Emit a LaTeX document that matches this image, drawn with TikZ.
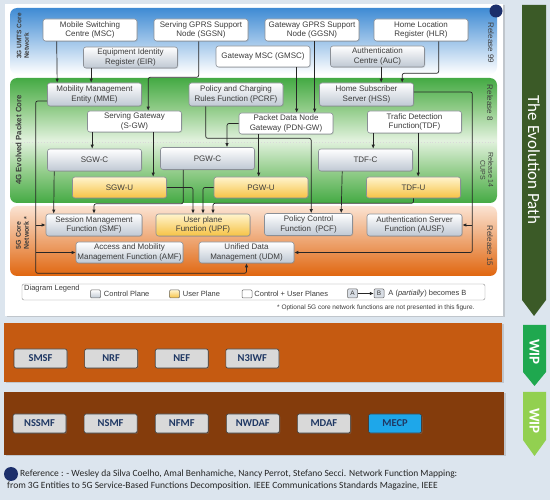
\documentclass[tikz,border=0pt]{standalone}
\usepackage{fontspec}
\setmainfont{Liberation Sans}
\newfontfamily\calibri{Carlito}
\usepackage{tikz}
\usetikzlibrary{positioning,arrows.meta,shadows}
\definecolor{PageBack}{HTML}{DCE5EE}
\definecolor{UmtsBlue}{HTML}{3F8BD4}
\definecolor{EpcGreen}{HTML}{44AA44}
\definecolor{EpcMid}{HTML}{8FCB87}
\definecolor{EpcLight}{HTML}{E2F2DE}
\definecolor{CorePeach}{HTML}{FBE3D2}
\definecolor{CoreOrange}{HTML}{E0660F}
\definecolor{CtrlGray}{HTML}{BFC8D3}
\definecolor{UserGold}{HTML}{F6C244}
\definecolor{UserLight}{HTML}{FFF4CC}
\definecolor{BoxLine}{HTML}{8A8F96}
\definecolor{TextGray}{HTML}{3C3C3C}
\definecolor{WipOrange}{HTML}{C55A11}
\definecolor{WipBrown}{HTML}{843C0C}
\definecolor{PathGreen}{HTML}{3B5A27}
\definecolor{WipGreen}{HTML}{1FA84F}
\definecolor{WipLime}{HTML}{92D050}
\definecolor{RefNavy}{HTML}{1C2F6B}
\definecolor{FuncNavy}{HTML}{1F3864}
\definecolor{MecBlue}{HTML}{1EA7EA}
\definecolor{FuncGray}{HTML}{D9D9D9}
\pgfdeclareverticalshading{epcband}{100bp}{color(0bp)=(EpcGreen); color(25bp)=(EpcGreen); color(37bp)=(EpcMid); color(50bp)=(EpcLight); color(63bp)=(EpcMid); color(75bp)=(EpcGreen); color(100bp)=(EpcGreen)}

\begin{document}
\begin{tikzpicture}[x=1pt, y=-1pt,
    nf/.style={draw=BoxLine, line width=0.6pt, rounded corners=2.5pt, minimum width=94pt, minimum height=22pt, inner sep=1pt, align=center, text=TextGray, font=\fontsize{8}{9.5}\selectfont, drop shadow={opacity=0.25, shadow xshift=0.8pt, shadow yshift=-0.8pt}},
    cp/.style={nf, top color=white, bottom color=CtrlGray},
    up/.style={nf, top color=UserLight, bottom color=UserGold},
    cup/.style={nf, fill=white},
    link/.style={draw=black!85, line width=0.7pt, rounded corners=2pt, -{Latex[length=4pt, width=3.4pt]}},
    band/.style={font=\bfseries\fontsize{6.5}{7.5}\selectfont, text=TextGray, align=left, rotate=90},
    rel/.style={font=\fontsize{8}{8.5}\selectfont, text=black!75, align=center, rotate=-90},
    fn/.style={draw=black!75, line width=0.6pt, rounded corners=2pt, fill=FuncGray, minimum width=53pt, minimum height=19pt, inner sep=1pt, text=FuncNavy, font=\calibri\bfseries\fontsize{10.5}{12}\selectfont, drop shadow={opacity=0.35, shadow xshift=1pt, shadow yshift=-1pt}},
    swatch/.style={draw=black!60, line width=0.5pt, rounded corners=1pt, minimum width=10pt, minimum height=8pt, inner sep=0pt},
    legtext/.style={font=\fontsize{7.5}{8}\selectfont, text=TextGray, inner sep=0pt, anchor=west},
    wip/.style={font=\calibri\bfseries\fontsize{15}{15}\selectfont, text=white, rotate=-90}
  ]
    \fill[PageBack] (0,0) rectangle (550,500);

    % core network panel
    \fill[white, drop shadow={opacity=0.3, shadow xshift=1.5pt, shadow yshift=-1.5pt}] (5,4) rectangle (503,316);
    \shade[top color=UmtsBlue, bottom color=white, rounded corners=7pt] (10,8) rectangle (497,74);
    \shade[shading=epcband, rounded corners=7pt] (10,78) rectangle (497,203);
    \shade[top color=CorePeach, bottom color=CoreOrange, rounded corners=7pt] (10,206) rectangle (497,276);
    \draw[white!70!gray, dotted, line width=0.9pt] (12,142) -- (495,142);
    \fill[RefNavy] (496,11) circle[radius=6.5pt];

    \node[band] (umts) at (23,36) {3G UMTS Core\\Network};
    \node[band, font=\bfseries\fontsize{7.8}{9}\selectfont] (epc) at (18.5,140) {4G Evolved Packet Core};
    \node[band, font=\bfseries\fontsize{7}{8}\selectfont] (fgc) at (22.5,233) {5G Core\\Network *};
    \node[rel] (r99) at (491,43) {Release 99};
    \node[rel] (r8) at (490,103) {Release 8};
    \node[rel, font=\fontsize{7}{8}\selectfont] (r14) at (487,170) {Release 14\\CUPS};
    \node[rel] (r15) at (490,246) {Release 15};

    % 3G
    \node[cup] (msc) at (90,30) {Mobile Switching\\Centre (MSC)};
    \node[cup] (sgsn) at (201,30) {Serving GPRS Support\\Node (SGSN)};
    \node[cup] (ggsn) at (312,30) {Gateway GPRS Support\\Node (GGSN)};
    \node[cup] (hlr) at (421,30) {Home Location\\Register (HLR)};
    \node[cp, minimum height=21pt] (eir) at (130.5,57.5) {Equipment Identity\\Register (EIR)};
    \node[cup, minimum height=21pt] (gmsc) at (263,56.5) {Gateway MSC (GMSC)};
    \node[cp, minimum height=21pt] (auc) at (377.5,56.5) {Authentication\\Centre (AuC)};

    % 4G
    \node[cp, minimum height=23pt] (mme) at (94.5,94.5) {Mobility Management\\Entity (MME)};
    \node[cp, minimum height=23pt] (pcrf) at (236,94.5) {Policy and Charging\\Rules Function (PCRF)};
    \node[cp, minimum height=23pt] (hss) at (366.5,94.5) {Home Subscriber\\Server (HSS)};
    \node[cup, minimum height=21pt] (sgw) at (134.5,121.5) {Serving Gateway\\(S-GW)};
    \node[cup, minimum height=21pt] (pdngw) at (286,123.5) {Packet Data Node\\Gateway (PDN-GW)};
    \node[cup] (tdf) at (414.5,122) {Trafic Detection\\Function(TDF)};
    \node[cp] (sgwc) at (94.5,160) {SGW-C};
    \node[cp] (pgwc) at (207.5,158.5) {PGW-C};
    \node[cp] (tdfc) at (365.5,160) {TDF-C};
    \node[up, minimum height=21pt] (sgwu) at (119.5,187.5) {SGW-U};
    \node[up, minimum height=21pt] (pgwu) at (261,187.5) {PGW-U};
    \node[up, minimum height=21pt] (tdfu) at (413.5,187.5) {TDF-U};

    % 5G
    \node[cp, minimum width=96pt] (smf) at (94,225) {Session Management\\Function (SMF)};
    \node[up] (upf) at (203,225) {User plane\\Function (UPF)};
    \node[cp, minimum width=88pt] (pcf) at (308.5,224.5) {Policy Control\\Function~ (PCF)};
    \node[cp, minimum width=95pt] (ausf) at (414.5,225) {Authentication Server\\Function (AUSF)};
    \node[cp, minimum width=107pt, minimum height=21pt] (amf) at (129.5,252.5) {Access and Mobility\\Management Function (AMF)};
    \node[cp, minimum width=95pt, minimum height=21pt] (udm) at (246.5,252.5) {Unified Data\\Management (UDM)};

    % A (partially) becomes B
    \draw[link] ([xshift=14pt]msc.south west) -- ([xshift=10pt]mme.north west);
    \draw[link] ([xshift=8pt]eir.south west) -- ([xshift=44pt]mme.north west);
    \draw[link] ([xshift=45pt]sgsn.south west) -- ++(0,36) -| ([xshift=61pt]sgw.north west);
    \draw[link] ([xshift=81pt]gmsc.south west) -- ([xshift=58pt]pdngw.north west);
    \draw[link] ([xshift=50pt]ggsn.south west) -- ([xshift=76pt]pdngw.north west);
    \draw[link] ([xshift=51pt]auc.south west) -- ([xshift=62pt]hss.north west);
    \draw[link] ([xshift=65pt]hlr.south west) -- ++(0,32) -| ([xshift=83pt]hss.north west);

    \path (smf.west |- udm.south) ++(-10,10) coordinate (busb);
    \draw[link] ([yshift=-6.5pt]mme.west) -| (busb) -| (udm.south);
    \draw[link] (busb |- smf.west) -- (smf.west);
    \draw[link] (busb |- amf.west) -- (amf.west);

    \draw[link] ([xshift=5pt]sgw.south west) -- ([xshift=45pt]sgwc.north west);
    \draw[link] ([xshift=66pt]sgw.south west) -- ([xshift=81pt]sgwu.north west);
    \draw[link] ([xshift=7pt]sgwc.south west) -- ([xshift=8pt]smf.north west);
    \draw[link] ([xshift=23pt]pgwc.south west) -- ++(0,34) -| (smf.north);
    \draw[link] (sgwu.east) -| ([xshift=-10pt]upf.north);
    \draw[link] (pgwu.west) -| (upf.north);
    \draw[link] (tdfu.south) -- ++(0,5) -| ([xshift=10pt]upf.north);
    \draw[link] ([xshift=17pt]pcrf.south west) -- ++(0,32) -| ([xshift=47pt]pcf.north west);
    \draw[link] (pdngw.west) -| ([xshift=19.5pt]pgwc.north);
    \draw[link] ([xshift=20pt]pdngw.south west) -- ([xshift=45pt]pgwu.north west);
    \draw[link] ([xshift=6pt]tdf.south west) -- ([xshift=55pt]tdfc.north west);
    \draw[link] ([xshift=51pt]tdf.south west) -- ([xshift=52pt]tdfu.north west);
    \draw[link] ([xshift=24pt]tdfc.south west) -- ([xshift=77pt]pcf.north west);

    \path (ausf.east |- udm.east) ++(10,0) coordinate (hssb);
    \draw[link] ([yshift=2.5pt]hss.east) -| (hssb) -- (udm.east);
    \draw[link] (hssb |- ausf.east) -- (ausf.east);

    % legend
    \node[draw=black!45, fill=white, rounded corners=2pt, minimum width=463pt, minimum height=16pt] (legend) at (253.5,292) {};
    \node[legtext] (legtitle) at (24,289) {Diagram Legend};
    \node[swatch, top color=white, bottom color=CtrlGray] (lgcp) at (95.5,294) {};
    \node[legtext, right=3pt of lgcp] (lgcptext) {Control Plane};
    \node[swatch, top color=UserLight, bottom color=UserGold] (lgup) at (174.5,294) {};
    \node[legtext, right=3pt of lgup] (lguptext) {User Plane};
    \node[swatch, fill=white] (lgcup) at (247,294) {};
    \node[legtext, right=2pt of lgcup] (lgcuptext) {Control + User Planes};
    \node[swatch, fill=CtrlGray!60, minimum height=9pt, font=\fontsize{6.5}{7}\selectfont, text=TextGray] (lga) at (352.5,293.5) {A};
    \node[swatch, fill=CtrlGray!60, minimum height=9pt, font=\fontsize{6.5}{7}\selectfont, text=TextGray, right=16pt of lga] (lgb) {B};
    \draw[link] (lga) -- (lgb);
    \node[legtext, right=4pt of lgb] (lgbtext) {A (\textit{partially}) becomes B};
    \node[font=\fontsize{6.5}{7}\selectfont, text=TextGray, anchor=east] (note) at (478,308) {* Optional 5G core network functions are not presented in this figure.};

    % work in progress functions
    \fill[WipOrange, drop shadow={opacity=0.3, shadow xshift=1.5pt, shadow yshift=-1.5pt}] (4,323) rectangle (502,382);
    \node[fn] (smsf) at (40.5,358.5) {SMSF};
    \node[fn, right=17pt of smsf] (nrf) {NRF};
    \node[fn, right=17pt of nrf] (nef) {NEF};
    \node[fn, right=17pt of nef] (n3iwf) {N3IWF};

    \fill[WipBrown, drop shadow={opacity=0.3, shadow xshift=1.5pt, shadow yshift=-1.5pt}] (4,392) rectangle (504,455);
    \node[fn] (nssmf) at (39.5,423.5) {NSSMF};
    \node[fn, right=17.5pt of nssmf] (nsmf) {NSMF};
    \node[fn, right=17.5pt of nsmf] (nfmf) {NFMF};
    \node[fn, right=17.5pt of nfmf] (nwdaf) {NWDAF};
    \node[fn, right=17.5pt of nwdaf] (mdaf) {MDAF};
    \node[fn, right=17.5pt of mdaf, fill=MecBlue] (mecp) {MECP};

    % evolution path
    \fill[PathGreen] (522,5) -- (546,5) -- (546,300) -- (534,316) -- (522,300) -- cycle;
    \node[rotate=-90, text=white, font=\calibri\fontsize{17}{17}\selectfont] (evo) at (534,160) {The Evolution Path};
    \fill[WipGreen] (523,325) -- (546,325) -- (546,372) -- (534.5,386) -- (523,372) -- cycle;
    \node[wip] (wip1) at (534.5,352) {WIP};
    \fill[WipLime] (523,392) -- (546,392) -- (546,440) -- (534.5,456) -- (523,440) -- cycle;
    \node[wip] (wip2) at (534.5,421) {WIP};

    % reference
    \fill[RefNavy] (11,474) circle[radius=7pt];
    \node[font=\calibri\fontsize{9.5}{11}\selectfont, text=black!85, anchor=west, inner sep=0pt] (ref1) at (20,474) {Reference : - Wesley da Silva Coelho, Amal Benhamiche, Nancy Perrot, Stefano Secci. Network Function Mapping:};
    \node[font=\calibri\fontsize{9.5}{11}\selectfont, text=black!85, anchor=west, inner sep=0pt] (ref2) at (7,486) {from 3G Entities to 5G Service-Based Functions Decomposition. IEEE Communications Standards Magazine, IEEE};
\end{tikzpicture}
\end{document}
